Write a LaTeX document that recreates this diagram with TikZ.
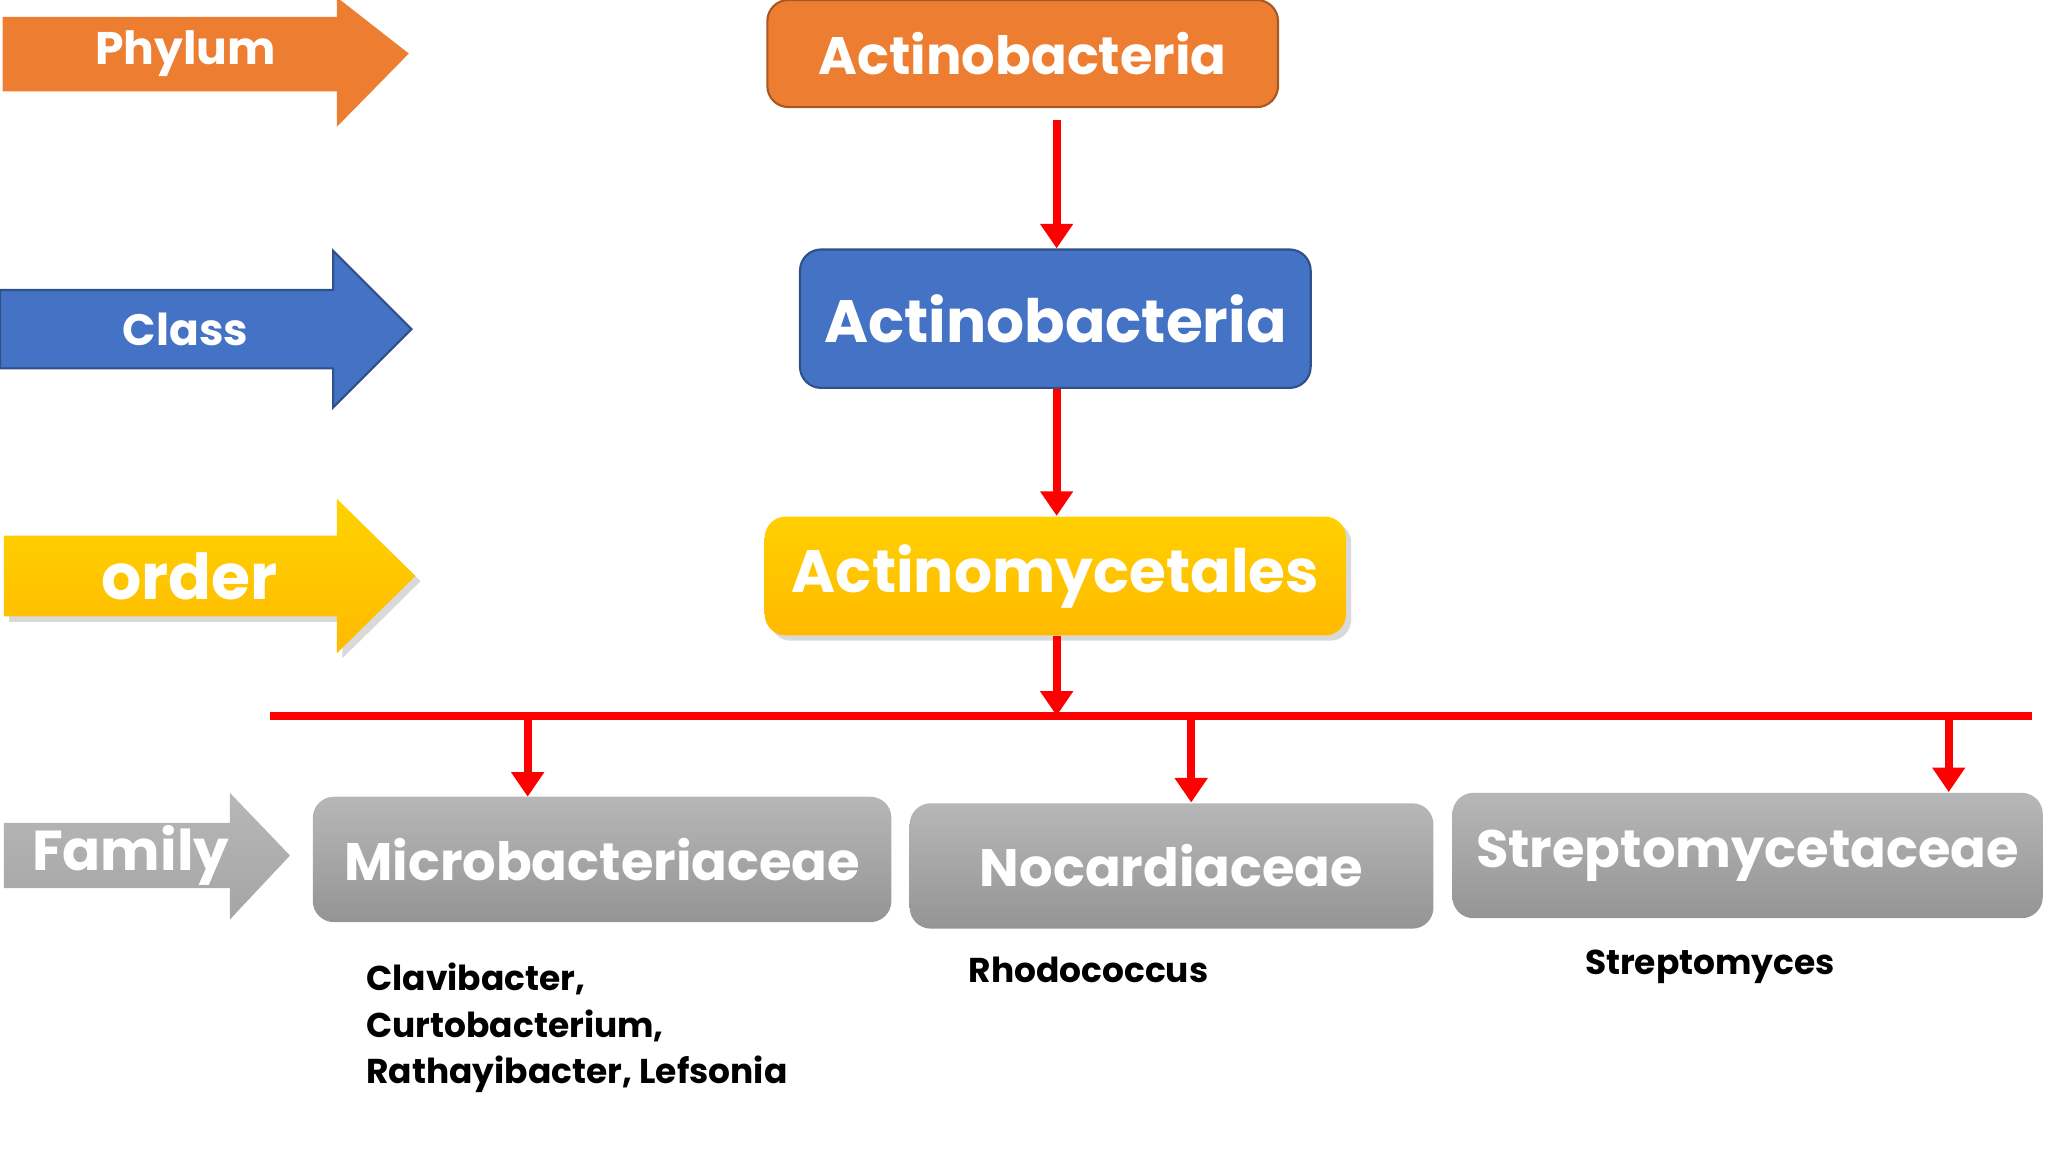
\documentclass[tikz,border=0pt]{standalone}
\usepackage{fontspec}
\setmainfont{Poppins}
\usetikzlibrary{arrows.meta,shadows}
\definecolor{org}{HTML}{ED7D31}
\definecolor{blu}{HTML}{4472C4}
\definecolor{yel}{HTML}{FFC000}
\definecolor{gry}{HTML}{A5A5A5}
\def\u{0.013061cm}
\tikzset{
 box/.style={rounded corners=6pt,text=white,font=\bfseries,inner sep=0pt},
 con/.style={draw=red,line width=2.2pt,-{Triangle[length=7pt,width=9pt]}},
 lbl/.style={text=white,font=\bfseries,inner sep=0pt},
 shd/.style={drop shadow={shadow xshift=1.5pt,shadow yshift=-1.5pt,opacity=0.3}},
 gen/.style={font=\bfseries\fontsize{9.8}{13.2}\selectfont,align=left,anchor=north west,inner sep=0pt}
}
\begin{document}
\begin{tikzpicture}[x=0.013061cm,y=-0.013061cm]
\useasboundingbox (0,0) rectangle (1568,882);
% side arrows
\fill[org] (2,13)--(258,13)--(258,-2)--(313,41)--(258,97)--(258,70)--(2,70)--cycle;
\node[lbl,font=\bfseries\fontsize{13}{15}\selectfont] (lp) at (142,41) {Phylum};
\fill[blu,draw=blu!70!black,line width=0.6pt] (0,222)--(255,222)--(255,192)--(315,252)--(255,312)--(255,282)--(0,282)--cycle;
\node[lbl,font=\bfseries\fontsize{12.5}{15}\selectfont] (lc) at (142,252) {Class};
\shade[top color=yel!70!yellow,bottom color=yel!90!orange,shd] (3,410)--(258,410)--(258,382)--(318,441)--(258,500)--(258,472)--(3,472)--cycle;
\node[lbl,font=\bfseries\fontsize{18}{20}\selectfont] (lo) at (145,441) {order};
\shade[top color=gry!80,bottom color=gry] (3,630)--(176,630)--(176,607)--(222,655)--(176,704)--(176,680)--(3,680)--cycle;
\node[lbl,font=\bfseries\fontsize{16}{18}\selectfont] (lf) at (100,655) {Family};
% boxes
\node[box,fill=org,draw=org!70!black,line width=0.6pt,minimum width=391*\u,minimum height=82*\u,font=\bfseries\fontsize{15}{17}\selectfont] (p) at (783,41) {Actinobacteria};
\node[box,fill=blu,draw=blu!70!black,line width=0.6pt,minimum width=391*\u,minimum height=106*\u,font=\bfseries\fontsize{17}{19}\selectfont] (c) at (808,244) {Actinobacteria};
\node[box,top color=yel!75!yellow,bottom color=yel!90!orange,shd,minimum width=445*\u,minimum height=91*\u,font=\bfseries\fontsize{17}{19}\selectfont] (o) at (808,441) {Actinomycetales};
\node[box,top color=gry!80,bottom color=gry!90!black,minimum width=443*\u,minimum height=96*\u,font=\bfseries\fontsize{15}{17}\selectfont] (f1) at (461,658) {Microbacteriaceae};
\node[box,top color=gry!80,bottom color=gry!90!black,minimum width=401*\u,minimum height=96*\u,font=\bfseries\fontsize{15}{17}\selectfont] (f2) at (897,663) {Nocardiaceae};
\node[box,top color=gry!80,bottom color=gry!90!black,minimum width=452*\u,minimum height=96*\u,font=\bfseries\fontsize{15}{17}\selectfont] (f3) at (1338,655) {Streptomycetaceae};
% connectors
\coordinate (pb) at (809,92);
\coordinate (L) at (207,548);
\coordinate (R) at (1556,548);
\coordinate (M) at (809,548);
\draw[con] (pb) -- (c.north -| pb);
\draw[con] (c.south -| pb) -- (o.north -| pb);
\draw[con] (o.south -| pb) -- (M);
\draw[draw=red,line width=2.2pt] (L) -- (R);
\draw[con] (404,548) -- (404,610);
\draw[con] (912,548) -- (f2.north -| 912,0);
\draw[con] (1492,548) -- (f3.north -| 1492,0);
% genera
\node[gen] (g1) at (280,737) {Clavibacter,\\Curtobacterium,\\Rathayibacter, Lefsonia};
\node[gen] (g2) at (741,732) {Rhodococcus};
\node[gen] (g3) at (1213,727) {Streptomyces};
\end{tikzpicture}
\end{document}
